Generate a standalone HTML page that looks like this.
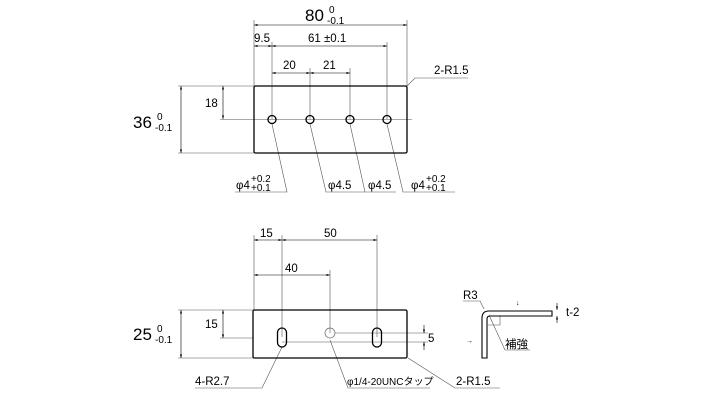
<!DOCTYPE html>
<html><head><meta charset="utf-8"><style>
html,body{margin:0;padding:0;background:#fff;}
svg{display:block;font-family:"Liberation Sans","Noto Sans CJK JP",sans-serif;}
</style></head><body>
<svg width="725" height="403" viewBox="0 0 725 403" xmlns="http://www.w3.org/2000/svg">
<defs>
<marker id="a" viewBox="0 0 10 6" refX="10" refY="3" markerWidth="6" markerHeight="4" orient="auto-start-reverse"><path d="M0,0L10,3L0,6z" fill="#000"/></marker>
</defs>
<g stroke="#555" stroke-width="0.6" fill="none">
<line x1="254" y1="20" x2="254" y2="86"/><line x1="407" y1="20" x2="407" y2="86"/>
<line x1="272" y1="42" x2="272" y2="119"/><line x1="387" y1="42" x2="387" y2="119"/>
<line x1="310" y1="68" x2="310" y2="119"/><line x1="350" y1="68" x2="350" y2="119"/>
<line x1="178" y1="86" x2="254" y2="86"/><line x1="178" y1="153" x2="254" y2="153"/>
<line x1="220" y1="119.5" x2="412" y2="119.5"/>
<polyline points="272,124 287,192 235,192"/>
<polyline points="310,124 326,192 365,192"/>
<polyline points="350,124 365,192 396,192"/>
<polyline points="387,124 403,192 455,192"/>
<polyline points="407,86 415,78 468,78"/>
<line x1="254" y1="235" x2="254" y2="310"/><line x1="282" y1="235" x2="282" y2="337"/>
<line x1="377" y1="235" x2="377" y2="337"/><line x1="330" y1="270" x2="330" y2="333"/>
<line x1="178" y1="310" x2="254" y2="310"/><line x1="178" y1="358" x2="254" y2="358"/>
<line x1="220" y1="338" x2="253" y2="338"/>
<line x1="335" y1="333" x2="428" y2="333"/><line x1="282" y1="342" x2="428" y2="342"/>
<polyline points="282,347 262,388 195,388"/>
<polyline points="330,340 348,388 430,388"/>
<polyline points="408,358 455,388 500,388"/>
<polyline points="463,301 480,301 484,309"/>
<polyline points="489,315 505,350 530,350"/>
<polyline points="497,316 500,316 500,325 488,325"/>
</g>
<g stroke="#000" stroke-width="0.6" fill="none" marker-start="url(#a)" marker-end="url(#a)">
<line x1="254" y1="25" x2="407" y2="25"/>
<line x1="254" y1="46" x2="272" y2="46"/><line x1="272" y1="46" x2="387" y2="46"/>
<line x1="272" y1="73" x2="310" y2="73"/><line x1="310" y1="73" x2="350" y2="73"/>
<line x1="223" y1="86" x2="223" y2="119"/><line x1="181" y1="86" x2="181" y2="153"/>
<line x1="254" y1="240" x2="282" y2="240"/><line x1="282" y1="240" x2="377" y2="240"/>
<line x1="254" y1="275" x2="330" y2="275"/>
<line x1="223" y1="310" x2="223" y2="338"/><line x1="181" y1="310" x2="181" y2="358"/>
</g>
<g stroke="#000" stroke-width="0.6" fill="none">
<line x1="424" y1="325" x2="424" y2="333" marker-end="url(#a)"/>
<line x1="424" y1="350" x2="424" y2="342" marker-end="url(#a)"/>
<line x1="557" y1="303" x2="557" y2="310" marker-end="url(#a)"/>
<line x1="557" y1="323" x2="557" y2="316" marker-end="url(#a)"/>
</g>
<g stroke="#000" stroke-width="1.3" fill="none">
<rect x="254" y="86" width="153" height="67" rx="1.5"/>
<circle cx="272" cy="119.5" r="4"/><circle cx="310" cy="119.5" r="4"/>
<circle cx="350" cy="119.5" r="4"/><circle cx="387" cy="119.5" r="4"/>
<rect x="253" y="310" width="154" height="48" rx="1.5"/>
<rect x="277.5" y="328" width="9" height="19" rx="4.5"/>
<rect x="372.5" y="328" width="9" height="19" rx="4.5"/>
<path d="M482,358 V318 Q482,311 489,311 H552 V316 H490 Q487,316 487,319 V358 Z" stroke-width="1.1"/>
</g>
<circle cx="330" cy="333" r="5" stroke="#666" stroke-width="0.7" fill="none"/>
<g fill="#000" font-size="11.5">
<text x="305" y="21" font-size="17">80</text><text x="329" y="13" font-size="10">0</text><text x="327" y="24" font-size="10">-0.1</text>
<text x="254" y="42">9.5</text><text x="308" y="42">61 ±0.1</text>
<text x="283" y="69">20</text><text x="323" y="69">21</text>
<text x="205" y="107">18</text>
<text x="133" y="128" font-size="17">36</text><text x="157" y="120" font-size="10">0</text><text x="155" y="131" font-size="10">-0.1</text>
<text x="434" y="74">2-R1.5</text>
<text x="236" y="189">φ4</text><text x="251" y="182" font-size="10">+0.2</text><text x="251" y="191" font-size="10">+0.1</text>
<text x="328" y="189">φ4.5</text><text x="368" y="189">φ4.5</text>
<text x="411" y="189">φ4</text><text x="426" y="182" font-size="10">+0.2</text><text x="426" y="191" font-size="10">+0.1</text>
<text x="260" y="237">15</text><text x="324" y="237">50</text><text x="285" y="272">40</text>
<text x="205" y="328">15</text>
<text x="133" y="340" font-size="17">25</text><text x="157" y="332" font-size="10">0</text><text x="155" y="343" font-size="10">-0.1</text>
<text x="428" y="342">5</text>
<text x="195" y="385">4-R2.7</text>
<text x="347" y="385" font-size="10">φ1/4-20UNCタップ</text>
<text x="456" y="385">2-R1.5</text>
<text x="463" y="299">R3</text>
<text x="566" y="316">t-2</text>
<text x="505" y="348">補強</text>
<text x="516" y="305" font-size="7">↓</text>
<text x="466" y="343" font-size="7">→</text>
</g>
</svg>
</body></html>
